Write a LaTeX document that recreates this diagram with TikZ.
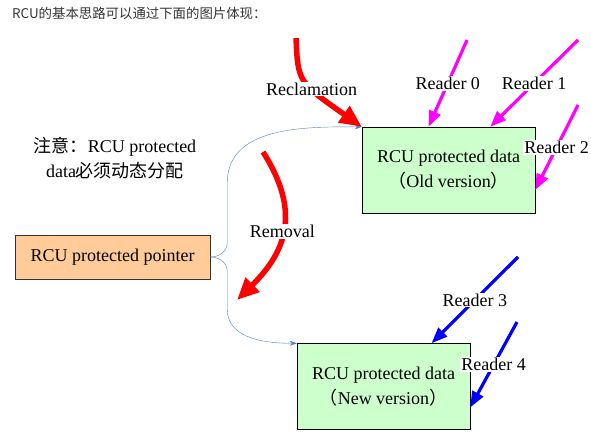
\documentclass[tikz,border=0pt]{standalone}
\usepackage{fontspec}
\setmainfont{Liberation Serif}
\newfontfamily\cjk{Noto Sans CJK SC}
\definecolor{databox}{HTML}{CCFFCC}
\definecolor{ptrbox}{HTML}{FFCC99}
\definecolor{linkblue}{HTML}{4F81BD}
\definecolor{titlegray}{HTML}{333333}
\definecolor{readermag}{HTML}{FF00FF}
\usepackage{tikz}
\usetikzlibrary{arrows.meta,positioning,calc}

\begin{document}
\begin{tikzpicture}[x=1pt,y=-1pt,
  data/.style={draw=black,fill=databox,minimum width=173pt,minimum height=86pt,
               font=\fontsize{18}{25}\selectfont,align=center,inner sep=0pt},
  ptr/.style={draw=black!80,fill=ptrbox,minimum width=195pt,minimum height=44pt,
              font=\fontsize{18}{20}\selectfont,inner sep=0pt},
  lbl/.style={fill=white,text=black,font=\fontsize{18}{20}\selectfont,inner sep=1pt},
  link/.style={-{Stealth[length=7pt,width=5pt]},thin,color=linkblue},
  redarrow/.style={-{Triangle[length=22pt,width=19pt]},line width=5.5pt,color=red},
  magarrow/.style={-{Triangle[length=16pt,width=12pt]},line width=3.2pt,color=readermag},
  bluearrow/.style={-{Triangle[length=16pt,width=12pt]},line width=3.2pt,color=blue}
]
\useasboundingbox (0,0) rectangle (591,436);

% Titel
\node[anchor=west,inner sep=0pt,text=titlegray,font=\cjk\fontsize{13.4}{15}\selectfont]
  (title) at (12,13) {RCU的基本思路可以通过下面的图片体现：};

% Knoten
\node[data] (old) at (448.5,170) {RCU protected data\\{\cjk（}Old version{\cjk）}};
\node[data] (new) at (383.5,386.5) {RCU protected data\\{\cjk（}New version{\cjk）}};
\node[ptr] (pointer) at (112.5,257) {RCU protected pointer};
\node[align=center,font=\fontsize{18}{25}\selectfont] (note) at (115,158)
  {{\cjk 注意：}RCU protected\\data{\cjk 必须动态分配}};

% Zeiger -> Daten
\draw[link] (pointer.east) to[out=0,in=-90] ++(17,-14) -- ++(0,-60)
  to[out=90,in=180] (old.north west);
\draw[link] (pointer.east) to[out=0,in=90] ++(17,14) -- ++(0,38)
  to[out=-90,in=180] (new.north west);

% Reclamation / Removal
\coordinate (reclstart) at (296,38);
\coordinate (remstart) at (263,152);
\coordinate (remend) at (237,300);
\draw[redarrow] (reclstart) .. controls (298,82) .. node[lbl,pos=0.6] {Reclamation} (old.north west);
\draw[redarrow] (remstart) .. controls (300,210) and (288,250) .. node[lbl,pos=0.52] {Removal} (remend);

% Leser
\coordinate (r0) at (467,40);
\coordinate (r1) at (578,40);
\coordinate (r2) at (578,105);
\coordinate (r3) at (518,257);
\coordinate (r4) at (517,322);
\draw[magarrow] (r0) -- node[lbl] {Reader 0} ([xshift=-20pt]old.north);
\draw[magarrow] (r1) -- node[lbl] {Reader 1} ([xshift=-45pt]old.north east);
\draw[magarrow] (r2) -- node[lbl] {Reader 2} ([yshift=-20pt]old.east);
\draw[bluearrow] (r3) -- node[lbl] {Reader 3} ([xshift=48pt]new.north);
\draw[bluearrow] (r4) -- node[lbl] {Reader 4} ([yshift=-21pt]new.east);

\end{tikzpicture}
\end{document}
